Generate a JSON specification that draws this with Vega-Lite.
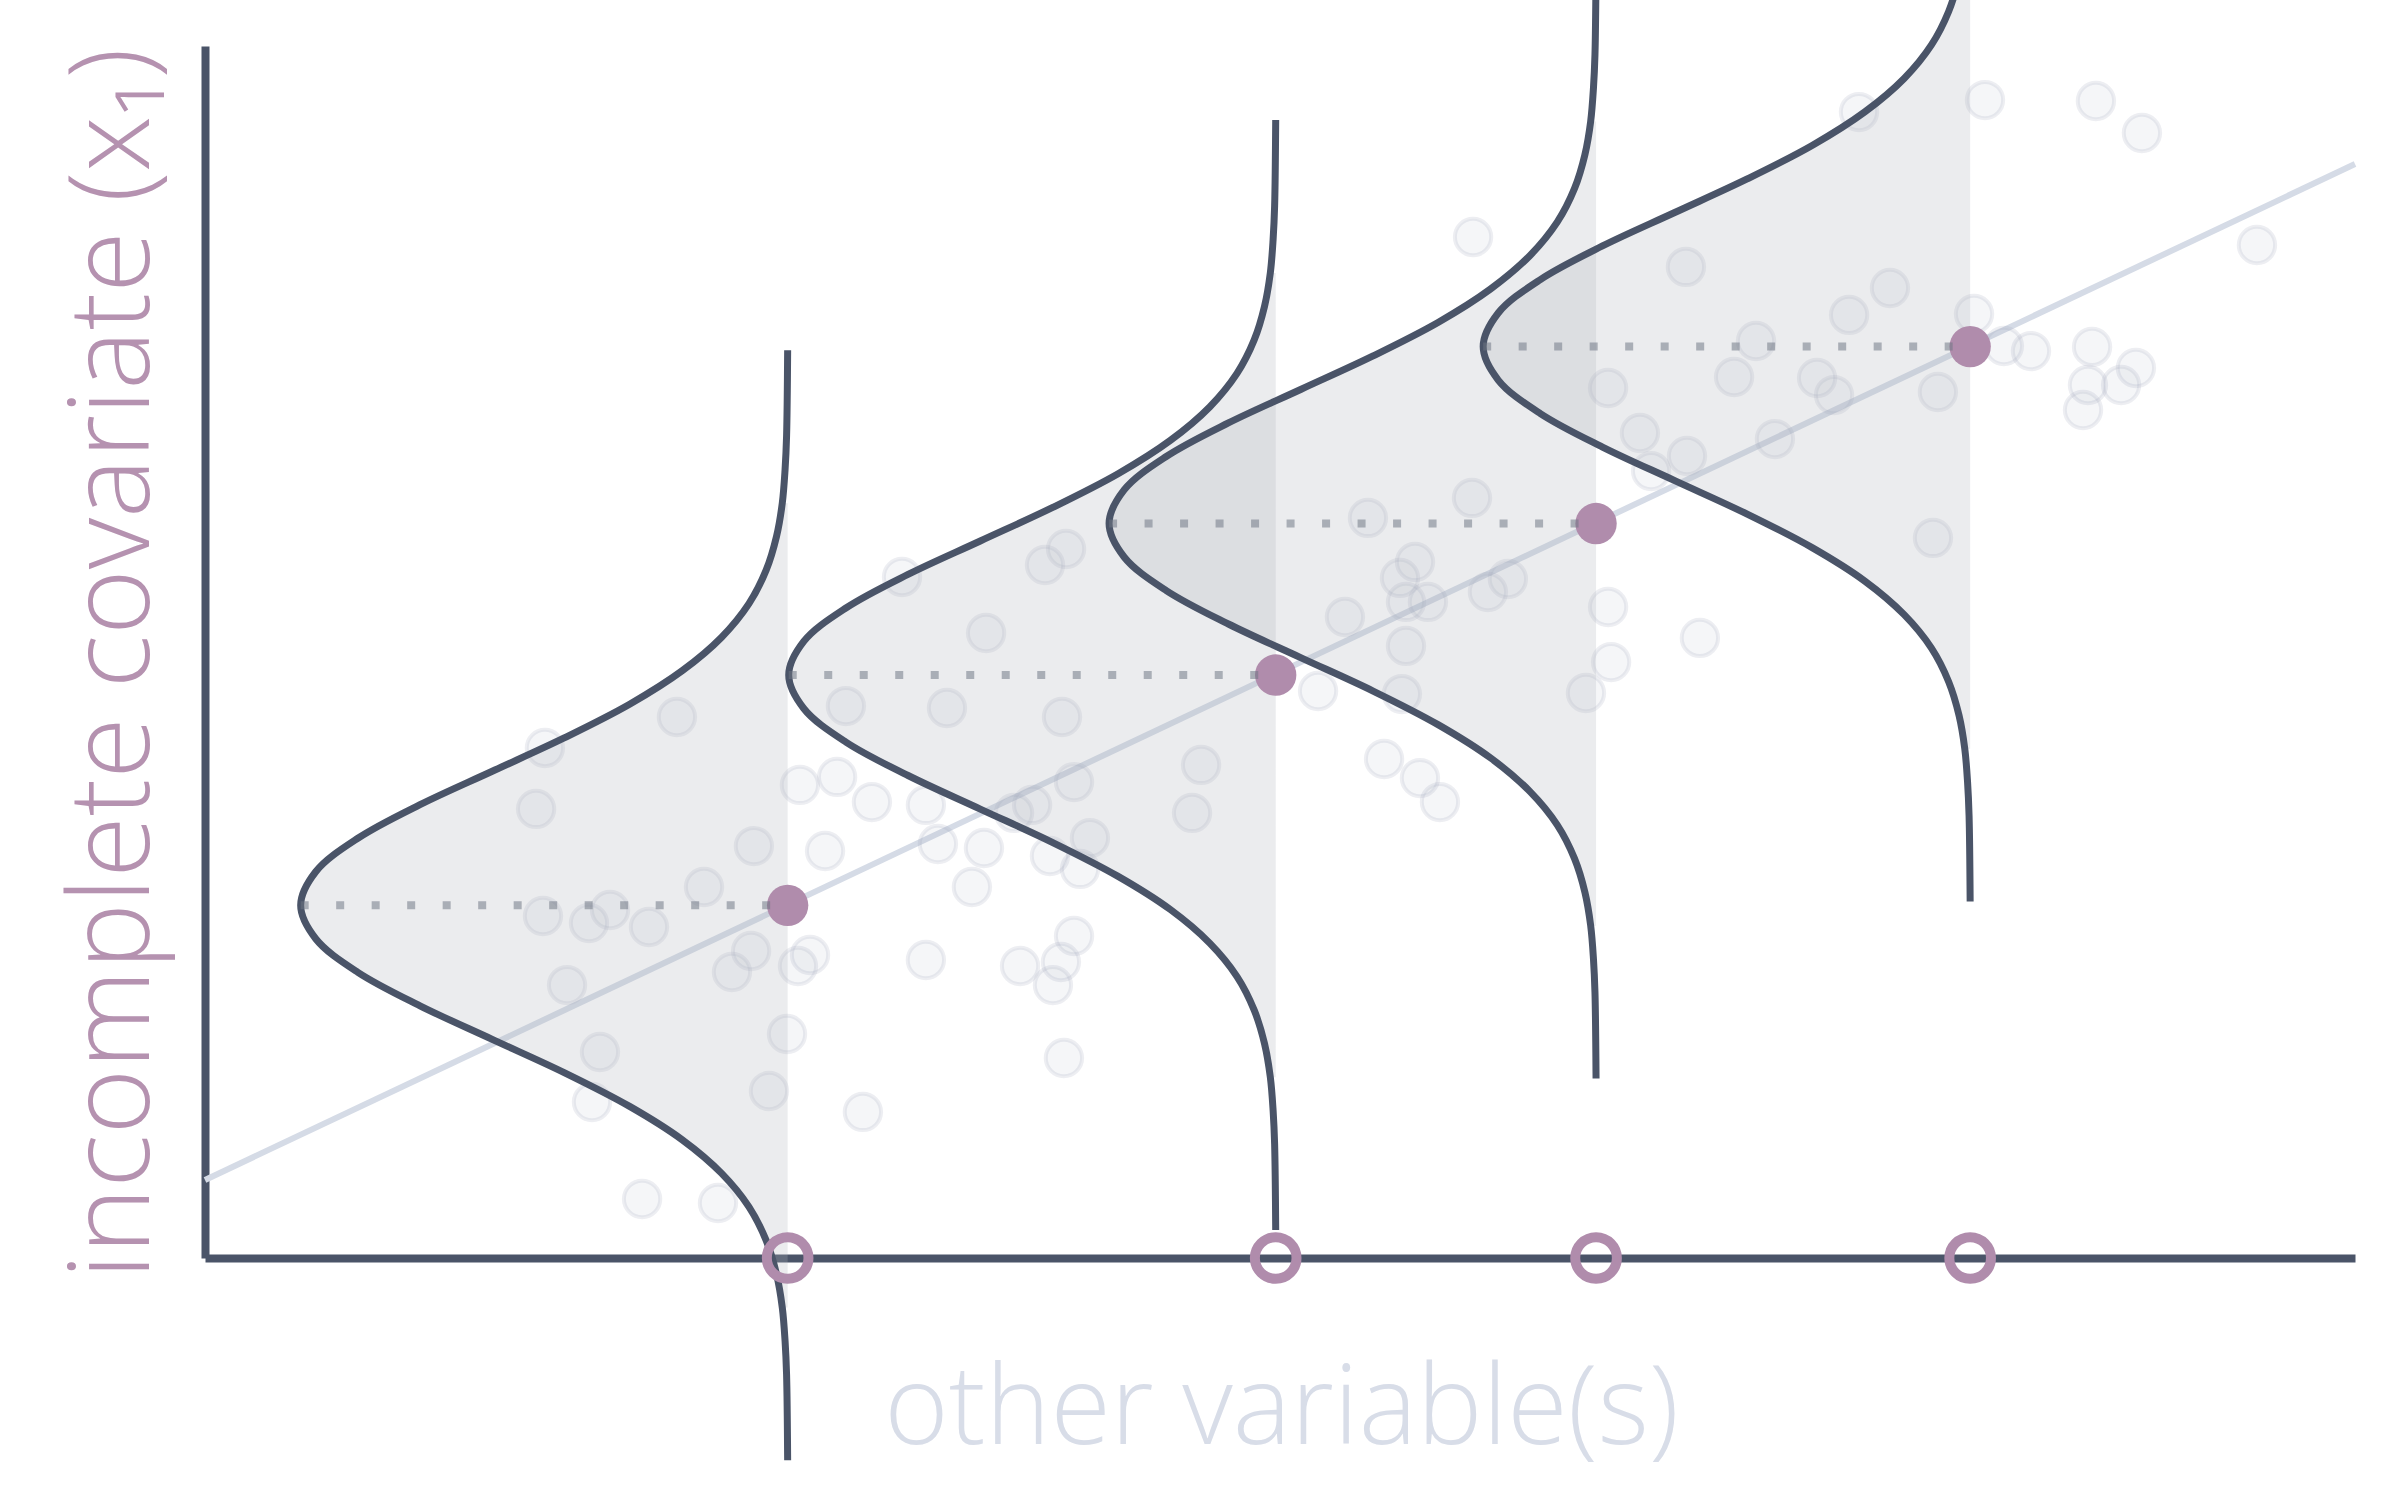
{
  "$schema": "https://vega.github.io/schema/vega-lite/v6.json",
  "width": 2150,
  "height": 1212,
  "autosize": {"type": "none"},
  "padding": {"left": 205, "top": 46, "right": 45, "bottom": 242},
  "background": "white",
  "config": {
    "view": {"stroke": null},
    "axis": {"domain": true, "domainColor": "#4a5468", "domainWidth": 8, "ticks": false, "labels": false, "grid": false,
      "titleFont": "Open Sans", "titleFontWeight": 300, "zindex": 1},
    "axisX": {"titleColor": "#d8dde8", "titleFontSize": 110, "titleAlign": "center", "titleBaseline": "alphabetic", "titleX": 1076, "titleY": 185, "titleAngle": 0},
    "axisY": {"titleColor": "#b592b0", "titleFontSize": 112, "titleAngle": 270, "titleAlign": "center", "titleBaseline": "alphabetic", "titleX": -57, "titleY": 617}
  },
  "datasets": {
    "reg": [{"x": 0, "y": 6.44}, {"x": 100, "y": 90.26}],
    "means": [
      {"c": 1, "b": 27.1, "m": 29.1, "p": 4.45, "a": 0},
      {"c": 2, "b": 49.8, "m": 48.1, "p": 27.15, "a": 0},
      {"c": 3, "b": 64.7, "m": 60.6, "p": 42.05, "a": 0},
      {"c": 4, "b": 82.1, "m": 75.2, "p": 59.45, "a": 0}
    ],
    "pts": [
      {"x": 32.42, "y": 56.19}, {"x": 39.07, "y": 57.18}, {"x": 40.05, "y": 58.5}, {"x": 36.33, "y": 51.57},
      {"x": 58.98, "y": 84.24}, {"x": 68.88, "y": 81.77}, {"x": 65.26, "y": 71.78}, {"x": 66.74, "y": 68.07},
      {"x": 67.26, "y": 64.93}, {"x": 68.93, "y": 66.17}, {"x": 58.93, "y": 62.71}, {"x": 54.09, "y": 61.06},
      {"x": 56.28, "y": 57.43}, {"x": 55.58, "y": 56.11}, {"x": 55.86, "y": 54.13}, {"x": 56.88, "y": 54.13},
      {"x": 59.67, "y": 54.95}, {"x": 60.6, "y": 56.02}, {"x": 53.02, "y": 52.89}, {"x": 65.26, "y": 53.71},
      {"x": 55.86, "y": 50.5}, {"x": 69.53, "y": 51.16}, {"x": 65.4, "y": 49.17}, {"x": 76.93, "y": 94.55},
      {"x": 82.79, "y": 95.54}, {"x": 87.95, "y": 95.46}, {"x": 90.09, "y": 92.82}, {"x": 95.44, "y": 83.58},
      {"x": 78.37, "y": 80.03}, {"x": 76.47, "y": 77.81}, {"x": 72.14, "y": 75.66}, {"x": 71.12, "y": 72.69},
      {"x": 74.98, "y": 72.61}, {"x": 75.77, "y": 71.2}, {"x": 80.6, "y": 71.45}, {"x": 82.28, "y": 77.89},
      {"x": 83.67, "y": 75.25}, {"x": 84.93, "y": 74.83}, {"x": 87.77, "y": 75.17}, {"x": 89.81, "y": 73.43},
      {"x": 87.58, "y": 72.03}, {"x": 89.12, "y": 72.03}, {"x": 87.35, "y": 69.97}, {"x": 73.02, "y": 67.57},
      {"x": 80.37, "y": 59.41}, {"x": 21.95, "y": 44.64}, {"x": 15.81, "y": 42.08}, {"x": 15.4, "y": 37.05},
      {"x": 29.81, "y": 45.54}, {"x": 34.51, "y": 45.38}, {"x": 39.86, "y": 44.64}, {"x": 27.67, "y": 39.03},
      {"x": 29.4, "y": 39.69}, {"x": 31.02, "y": 37.62}, {"x": 33.53, "y": 37.38}, {"x": 38.47, "y": 37.38},
      {"x": 40.42, "y": 39.27}, {"x": 37.63, "y": 36.72}, {"x": 25.53, "y": 33.99}, {"x": 28.84, "y": 33.58},
      {"x": 34.09, "y": 34.16}, {"x": 36.23, "y": 33.83}, {"x": 39.3, "y": 33.17}, {"x": 40.7, "y": 32.1},
      {"x": 35.67, "y": 30.61}, {"x": 23.21, "y": 30.61}, {"x": 15.72, "y": 28.22}, {"x": 17.86, "y": 27.64},
      {"x": 18.84, "y": 28.71}, {"x": 20.65, "y": 27.31}, {"x": 25.4, "y": 25.33}, {"x": 24.51, "y": 23.6},
      {"x": 28.14, "y": 25.0}, {"x": 27.58, "y": 24.09}, {"x": 16.84, "y": 22.52}, {"x": 33.53, "y": 24.59},
      {"x": 37.91, "y": 24.09}, {"x": 39.81, "y": 24.42}, {"x": 39.44, "y": 22.52}, {"x": 40.42, "y": 26.57},
      {"x": 27.07, "y": 18.48}, {"x": 18.37, "y": 17.0}, {"x": 39.95, "y": 16.5}, {"x": 26.23, "y": 13.78},
      {"x": 18.0, "y": 12.87}, {"x": 30.6, "y": 12.05}, {"x": 20.33, "y": 4.87}, {"x": 23.86, "y": 4.54},
      {"x": 51.77, "y": 46.78}, {"x": 55.67, "y": 46.53}, {"x": 64.23, "y": 46.62}, {"x": 46.33, "y": 40.68},
      {"x": 45.91, "y": 36.72}, {"x": 41.16, "y": 34.65}, {"x": 54.84, "y": 41.17}, {"x": 56.51, "y": 39.6},
      {"x": 57.44, "y": 37.62}
    ],
    "dens": [
      {"c": 1, "b": 27.1, "z": -4.14, "y": -16.69, "x": 27.1},
      {"c": 1, "b": 27.1, "z": -3.5, "y": -9.61, "x": 27.05},
      {"c": 1, "b": 27.1, "z": -3.25, "y": -6.85, "x": 26.98},
      {"c": 1, "b": 27.1, "z": -3, "y": -4.08, "x": 26.85},
      {"c": 1, "b": 27.1, "z": -2.75, "y": -1.32, "x": 26.58},
      {"c": 1, "b": 27.1, "z": -2.5, "y": 1.45, "x": 26.1},
      {"c": 1, "b": 27.1, "z": -2.25, "y": 4.22, "x": 25.3},
      {"c": 1, "b": 27.1, "z": -2, "y": 6.98, "x": 24.03},
      {"c": 1, "b": 27.1, "z": -1.75, "y": 9.75, "x": 22.2},
      {"c": 1, "b": 27.1, "z": -1.5, "y": 12.51, "x": 19.75},
      {"c": 1, "b": 27.1, "z": -1.25, "y": 15.28, "x": 16.73},
      {"c": 1, "b": 27.1, "z": -1, "y": 18.04, "x": 13.36},
      {"c": 1, "b": 27.1, "z": -0.75, "y": 20.81, "x": 10.0},
      {"c": 1, "b": 27.1, "z": -0.5, "y": 23.57, "x": 7.11},
      {"c": 1, "b": 27.1, "z": -0.25, "y": 26.34, "x": 5.15},
      {"c": 1, "b": 27.1, "z": 0, "y": 29.1, "x": 4.45},
      {"c": 1, "b": 27.1, "z": 0.25, "y": 31.87, "x": 5.15},
      {"c": 1, "b": 27.1, "z": 0.5, "y": 34.63, "x": 7.11},
      {"c": 1, "b": 27.1, "z": 0.75, "y": 37.4, "x": 10.0},
      {"c": 1, "b": 27.1, "z": 1, "y": 40.16, "x": 13.36},
      {"c": 1, "b": 27.1, "z": 1.25, "y": 42.93, "x": 16.73},
      {"c": 1, "b": 27.1, "z": 1.5, "y": 45.69, "x": 19.75},
      {"c": 1, "b": 27.1, "z": 1.75, "y": 48.46, "x": 22.2},
      {"c": 1, "b": 27.1, "z": 2, "y": 51.22, "x": 24.03},
      {"c": 1, "b": 27.1, "z": 2.25, "y": 53.99, "x": 25.3},
      {"c": 1, "b": 27.1, "z": 2.5, "y": 56.75, "x": 26.1},
      {"c": 1, "b": 27.1, "z": 2.75, "y": 59.52, "x": 26.58},
      {"c": 1, "b": 27.1, "z": 3, "y": 62.28, "x": 26.85},
      {"c": 1, "b": 27.1, "z": 3.25, "y": 65.05, "x": 26.98},
      {"c": 1, "b": 27.1, "z": 3.5, "y": 67.81, "x": 27.05},
      {"c": 1, "b": 27.1, "z": 4.14, "y": 74.89, "x": 27.1},
      {"c": 2, "b": 49.8, "z": -4.14, "y": 2.31, "x": 49.8},
      {"c": 2, "b": 49.8, "z": -3.5, "y": 9.39, "x": 49.75},
      {"c": 2, "b": 49.8, "z": -3.25, "y": 12.16, "x": 49.68},
      {"c": 2, "b": 49.8, "z": -3, "y": 14.92, "x": 49.55},
      {"c": 2, "b": 49.8, "z": -2.75, "y": 17.69, "x": 49.28},
      {"c": 2, "b": 49.8, "z": -2.5, "y": 20.45, "x": 48.8},
      {"c": 2, "b": 49.8, "z": -2.25, "y": 23.22, "x": 48.0},
      {"c": 2, "b": 49.8, "z": -2, "y": 25.98, "x": 46.73},
      {"c": 2, "b": 49.8, "z": -1.75, "y": 28.75, "x": 44.9},
      {"c": 2, "b": 49.8, "z": -1.5, "y": 31.51, "x": 42.45},
      {"c": 2, "b": 49.8, "z": -1.25, "y": 34.28, "x": 39.43},
      {"c": 2, "b": 49.8, "z": -1, "y": 37.04, "x": 36.06},
      {"c": 2, "b": 49.8, "z": -0.75, "y": 39.81, "x": 32.7},
      {"c": 2, "b": 49.8, "z": -0.5, "y": 42.57, "x": 29.81},
      {"c": 2, "b": 49.8, "z": -0.25, "y": 45.34, "x": 27.85},
      {"c": 2, "b": 49.8, "z": 0, "y": 48.1, "x": 27.15},
      {"c": 2, "b": 49.8, "z": 0.25, "y": 50.87, "x": 27.85},
      {"c": 2, "b": 49.8, "z": 0.5, "y": 53.63, "x": 29.81},
      {"c": 2, "b": 49.8, "z": 0.75, "y": 56.4, "x": 32.7},
      {"c": 2, "b": 49.8, "z": 1, "y": 59.16, "x": 36.06},
      {"c": 2, "b": 49.8, "z": 1.25, "y": 61.93, "x": 39.43},
      {"c": 2, "b": 49.8, "z": 1.5, "y": 64.69, "x": 42.45},
      {"c": 2, "b": 49.8, "z": 1.75, "y": 67.46, "x": 44.9},
      {"c": 2, "b": 49.8, "z": 2, "y": 70.22, "x": 46.73},
      {"c": 2, "b": 49.8, "z": 2.25, "y": 72.99, "x": 48.0},
      {"c": 2, "b": 49.8, "z": 2.5, "y": 75.75, "x": 48.8},
      {"c": 2, "b": 49.8, "z": 2.75, "y": 78.52, "x": 49.28},
      {"c": 2, "b": 49.8, "z": 3, "y": 81.28, "x": 49.55},
      {"c": 2, "b": 49.8, "z": 3.25, "y": 84.05, "x": 49.68},
      {"c": 2, "b": 49.8, "z": 3.5, "y": 86.81, "x": 49.75},
      {"c": 2, "b": 49.8, "z": 4.14, "y": 93.89, "x": 49.8},
      {"c": 3, "b": 64.7, "z": -4.14, "y": 14.81, "x": 64.7},
      {"c": 3, "b": 64.7, "z": -3.5, "y": 21.89, "x": 64.65},
      {"c": 3, "b": 64.7, "z": -3.25, "y": 24.66, "x": 64.58},
      {"c": 3, "b": 64.7, "z": -3, "y": 27.42, "x": 64.45},
      {"c": 3, "b": 64.7, "z": -2.75, "y": 30.19, "x": 64.18},
      {"c": 3, "b": 64.7, "z": -2.5, "y": 32.95, "x": 63.7},
      {"c": 3, "b": 64.7, "z": -2.25, "y": 35.72, "x": 62.9},
      {"c": 3, "b": 64.7, "z": -2, "y": 38.48, "x": 61.63},
      {"c": 3, "b": 64.7, "z": -1.75, "y": 41.25, "x": 59.8},
      {"c": 3, "b": 64.7, "z": -1.5, "y": 44.01, "x": 57.35},
      {"c": 3, "b": 64.7, "z": -1.25, "y": 46.78, "x": 54.33},
      {"c": 3, "b": 64.7, "z": -1, "y": 49.54, "x": 50.96},
      {"c": 3, "b": 64.7, "z": -0.75, "y": 52.31, "x": 47.6},
      {"c": 3, "b": 64.7, "z": -0.5, "y": 55.07, "x": 44.71},
      {"c": 3, "b": 64.7, "z": -0.25, "y": 57.84, "x": 42.75},
      {"c": 3, "b": 64.7, "z": 0, "y": 60.6, "x": 42.05},
      {"c": 3, "b": 64.7, "z": 0.25, "y": 63.37, "x": 42.75},
      {"c": 3, "b": 64.7, "z": 0.5, "y": 66.13, "x": 44.71},
      {"c": 3, "b": 64.7, "z": 0.75, "y": 68.9, "x": 47.6},
      {"c": 3, "b": 64.7, "z": 1, "y": 71.66, "x": 50.96},
      {"c": 3, "b": 64.7, "z": 1.25, "y": 74.43, "x": 54.33},
      {"c": 3, "b": 64.7, "z": 1.5, "y": 77.19, "x": 57.35},
      {"c": 3, "b": 64.7, "z": 1.75, "y": 79.96, "x": 59.8},
      {"c": 3, "b": 64.7, "z": 2, "y": 82.72, "x": 61.63},
      {"c": 3, "b": 64.7, "z": 2.25, "y": 85.49, "x": 62.9},
      {"c": 3, "b": 64.7, "z": 2.5, "y": 88.25, "x": 63.7},
      {"c": 3, "b": 64.7, "z": 2.75, "y": 91.02, "x": 64.18},
      {"c": 3, "b": 64.7, "z": 3, "y": 93.78, "x": 64.45},
      {"c": 3, "b": 64.7, "z": 3.25, "y": 96.55, "x": 64.58},
      {"c": 3, "b": 64.7, "z": 3.5, "y": 99.31, "x": 64.65},
      {"c": 3, "b": 64.7, "z": 4.14, "y": 106.39, "x": 64.7},
      {"c": 4, "b": 82.1, "z": -4.14, "y": 29.41, "x": 82.1},
      {"c": 4, "b": 82.1, "z": -3.5, "y": 36.49, "x": 82.05},
      {"c": 4, "b": 82.1, "z": -3.25, "y": 39.26, "x": 81.98},
      {"c": 4, "b": 82.1, "z": -3, "y": 42.02, "x": 81.85},
      {"c": 4, "b": 82.1, "z": -2.75, "y": 44.79, "x": 81.58},
      {"c": 4, "b": 82.1, "z": -2.5, "y": 47.55, "x": 81.1},
      {"c": 4, "b": 82.1, "z": -2.25, "y": 50.32, "x": 80.3},
      {"c": 4, "b": 82.1, "z": -2, "y": 53.08, "x": 79.03},
      {"c": 4, "b": 82.1, "z": -1.75, "y": 55.85, "x": 77.2},
      {"c": 4, "b": 82.1, "z": -1.5, "y": 58.61, "x": 74.75},
      {"c": 4, "b": 82.1, "z": -1.25, "y": 61.38, "x": 71.73},
      {"c": 4, "b": 82.1, "z": -1, "y": 64.14, "x": 68.36},
      {"c": 4, "b": 82.1, "z": -0.75, "y": 66.91, "x": 65.0},
      {"c": 4, "b": 82.1, "z": -0.5, "y": 69.67, "x": 62.11},
      {"c": 4, "b": 82.1, "z": -0.25, "y": 72.44, "x": 60.15},
      {"c": 4, "b": 82.1, "z": 0, "y": 75.2, "x": 59.45},
      {"c": 4, "b": 82.1, "z": 0.25, "y": 77.97, "x": 60.15},
      {"c": 4, "b": 82.1, "z": 0.5, "y": 80.73, "x": 62.11},
      {"c": 4, "b": 82.1, "z": 0.75, "y": 83.5, "x": 65.0},
      {"c": 4, "b": 82.1, "z": 1, "y": 86.26, "x": 68.36},
      {"c": 4, "b": 82.1, "z": 1.25, "y": 89.03, "x": 71.73},
      {"c": 4, "b": 82.1, "z": 1.5, "y": 91.79, "x": 74.75},
      {"c": 4, "b": 82.1, "z": 1.75, "y": 94.56, "x": 77.2},
      {"c": 4, "b": 82.1, "z": 2, "y": 97.32, "x": 79.03},
      {"c": 4, "b": 82.1, "z": 2.25, "y": 100.09, "x": 80.3},
      {"c": 4, "b": 82.1, "z": 2.5, "y": 102.85, "x": 81.1},
      {"c": 4, "b": 82.1, "z": 2.75, "y": 105.62, "x": 81.58},
      {"c": 4, "b": 82.1, "z": 3, "y": 108.38, "x": 81.85},
      {"c": 4, "b": 82.1, "z": 3.25, "y": 111.15, "x": 81.98},
      {"c": 4, "b": 82.1, "z": 3.5, "y": 113.91, "x": 82.05},
      {"c": 4, "b": 82.1, "z": 4.14, "y": 120.99, "x": 82.1}
    ]
  },
  "layer": [
    {
      "data": {"name": "reg"},
      "mark": {"type": "line", "color": "#d5dbe6", "strokeWidth": 6},
      "encoding": {
        "x": {"field": "x", "type": "quantitative", "title": "other variable(s)", "scale": {"domain": [0, 100], "nice": false, "zero": false}},
        "y": {"field": "y", "type": "quantitative", "title": "incomplete covariate (x₁)", "scale": {"domain": [0, 100], "nice": false, "zero": false}}
      }
    },
    {
      "data": {"name": "pts"},
      "mark": {"type": "point", "shape": "circle", "filled": true, "size": 1320, "fill": "#9aa2b8", "fillOpacity": 0.1, "stroke": "#9aa2b8", "strokeOpacity": 0.18, "strokeWidth": 4},
      "encoding": {
        "x": {"field": "x", "type": "quantitative", "title": "other variable(s)", "scale": {"domain": [0, 100], "nice": false, "zero": false}},
        "y": {"field": "y", "type": "quantitative", "title": "incomplete covariate (x₁)", "scale": {"domain": [0, 100], "nice": false, "zero": false}}
      }
    },
    {
      "data": {"name": "dens"},
      "transform": [{"filter": "abs(datum.z) <= 3.01"}],
      "mark": {"type": "area", "orient": "horizontal", "interpolate": "catmull-rom", "color": "#b0b3bd", "opacity": 0.25},
      "encoding": {
        "y": {"field": "y", "type": "quantitative", "title": "incomplete covariate (x₁)", "scale": {"domain": [0, 100], "nice": false, "zero": false}},
        "x": {"field": "x", "type": "quantitative", "title": "other variable(s)", "stack": null, "scale": {"domain": [0, 100], "nice": false, "zero": false}},
        "x2": {"field": "b"},
        "detail": {"field": "c", "type": "nominal"}
      }
    },
    {
      "data": {"name": "dens"},
      "mark": {"type": "line", "interpolate": "catmull-rom", "color": "#4a5468", "strokeWidth": 7},
      "encoding": {
        "x": {"field": "x", "type": "quantitative", "title": "other variable(s)", "scale": {"domain": [0, 100], "nice": false, "zero": false}},
        "y": {"field": "y", "type": "quantitative", "title": "incomplete covariate (x₁)", "scale": {"domain": [0, 100], "nice": false, "zero": false}},
        "order": {"field": "z", "type": "quantitative"},
        "detail": {"field": "c", "type": "nominal"}
      }
    },
    {
      "data": {"name": "means"},
      "mark": {"type": "point", "shape": "circle", "filled": true, "size": 1710, "color": "#b08cac", "opacity": 1},
      "encoding": {
        "x": {"field": "b", "type": "quantitative", "title": "other variable(s)", "scale": {"domain": [0, 100], "nice": false, "zero": false}},
        "y": {"field": "m", "type": "quantitative", "title": "incomplete covariate (x₁)", "scale": {"domain": [0, 100], "nice": false, "zero": false}}
      }
    },
    {
      "data": {"name": "means"},
      "mark": {"type": "rule", "color": "#6e7482", "opacity": 0.52, "strokeWidth": 8, "strokeDash": [8, 27.5]},
      "encoding": {
        "x": {"field": "p", "type": "quantitative", "title": "other variable(s)", "scale": {"domain": [0, 100], "nice": false, "zero": false}},
        "x2": {"field": "b"},
        "y": {"field": "m", "type": "quantitative", "title": "incomplete covariate (x₁)", "scale": {"domain": [0, 100], "nice": false, "zero": false}}
      }
    },
    {
      "data": {"name": "means"},
      "mark": {"type": "point", "shape": "circle", "filled": false, "size": 1735, "stroke": "#b08cac", "strokeWidth": 10, "opacity": 1},
      "encoding": {
        "x": {"field": "b", "type": "quantitative", "title": "other variable(s)", "scale": {"domain": [0, 100], "nice": false, "zero": false}},
        "y": {"field": "a", "type": "quantitative", "title": "incomplete covariate (x₁)", "scale": {"domain": [0, 100], "nice": false, "zero": false}}
      }
    }
  ]
}
